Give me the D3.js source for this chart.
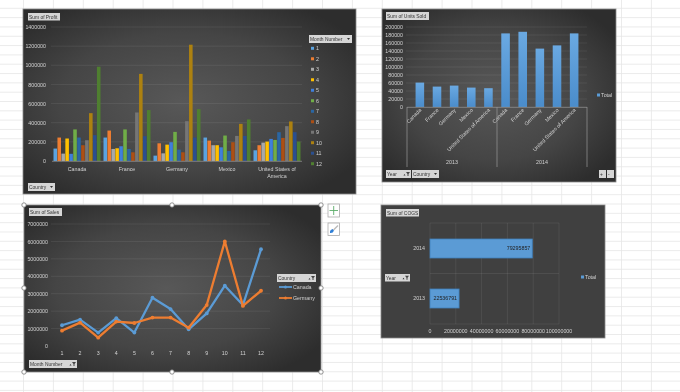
<!DOCTYPE html>
<html><head><meta charset="utf-8">
<script src="https://cdn.jsdelivr.net/npm/d3@7"></script>
<style>
html,body{margin:0;padding:0;background:#fff;overflow:hidden}
svg{display:block;filter:blur(.3px)}
text{font-family:"Liberation Sans",Arial,sans-serif}
</style></head><body>
<script>
// ---- data ----
const countries = ["Canada","France","Germany","Mexico","United States of America"];
const months = ["1","2","3","4","5","6","7","8","9","10","11","12"];
const profitCanada  = [130000,245000,77000,235000,75000,330000,245000,165000,217000,500000,270000,985000];
const profitFrance  = [245000,318000,126000,133000,154000,330000,126000,91000,507000,910000,259000,532000];
const profitGermany = [56000,185000,80000,171000,196000,304000,119000,91000,416000,1215000,245000,542000];
const profitMexico  = [245000,213000,165000,165000,143000,266000,105000,196000,262000,388000,262000,434000];
const profitUSA     = [112000,165000,192000,203000,231000,220000,301000,241000,364000,413000,301000,203000];
const monthColors = ["#5ba3e0","#ed7d31","#a8a8a8","#ffc000","#3f7fdc","#70ad47","#2a66a3","#ad4f14","#767676","#ad8110","#2b4f8f","#4f7f30"];
const profitTicks = [0,200000,400000,600000,800000,1000000,1200000,1400000];

const unitsShort = ["Canada","France","Germany","Mexico","United States of America"];
const years = ["2013","2014"];
const units2013 = [61000,51000,53500,48500,47000];
const units2014 = [184000,188000,146000,154000,184000];
const unitsTicks = [0,20000,40000,60000,80000,100000,120000,140000,160000,180000,200000];

const salesCanada  = [1190000,1510000,770000,1600000,770000,2770000,2120000,960000,1870000,3460000,2350000,5550000];
const salesGermany = [880000,1340000,480000,1400000,1320000,1630000,1630000,1050000,2350000,6000000,2300000,3170000];
const salesTicks = [0,1000000,2000000,3000000,4000000,5000000,6000000,7000000];

const cogsYears = ["2014","2013"];
const cogsValues = [79295857,22536791];
const cogsTicks = [0,20000000,40000000,60000000,80000000,100000000];

// ---- layout ----
const W=680,H=392;
const svg=d3.select("body").append("svg").attr("width",W).attr("height",H);
const defs=svg.append("defs");
const rg=defs.append("radialGradient").attr("id","panel").attr("cx","48%").attr("cy","50%").attr("r","62%");
rg.append("stop").attr("offset","0%").attr("stop-color","#585858");
rg.append("stop").attr("offset","60%").attr("stop-color","#454545");
rg.append("stop").attr("offset","100%").attr("stop-color","#2d2d2d");
const bg=defs.append("linearGradient").attr("id","bar").attr("x1",0).attr("x2",0).attr("y1",0).attr("y2",1);
bg.append("stop").attr("offset","0%").attr("stop-color","#6aa9e2");
bg.append("stop").attr("offset","100%").attr("stop-color","#4a8ccb");

const LBL="#d2d2d2", GRID="rgba(255,255,255,.11)", FS=5.3;

// worksheet grid
const sheet=svg.append("g").attr("stroke","#e6e6e6").attr("stroke-width",.8);
d3.range(0,24).forEach(i=>{const x=23.5-29.9+i*29.9;sheet.append("line").attr("x1",x).attr("x2",x).attr("y1",0).attr("y2",H);});
d3.range(0,42).forEach(i=>{const y=8.3+i*9.32;sheet.append("line").attr("x1",0).attr("x2",W).attr("y1",y).attr("y2",y);});

function panel(x0,y0,x1,y1,fill){
  svg.append("rect").attr("x",x0).attr("y",y0).attr("width",x1-x0).attr("height",y1-y0)
     .attr("fill",fill).attr("stroke","#8a8a8a").attr("stroke-width",.8);
}
function button(x0,y0,x1,y1,label,arrow){
  svg.append("rect").attr("x",x0).attr("y",y0).attr("width",x1-x0).attr("height",y1-y0).attr("fill","#d6d6d6");
  svg.append("text").attr("x",x0+1).attr("y",(y0+y1)/2+1.8).attr("font-size",4.9).attr("fill","#333").text(label);
  if(arrow==="down"){
    svg.append("path").attr("d",`M${x1-5},${(y0+y1)/2-1}h3l-1.5,2z`).attr("fill","#333");
  } else if(arrow==="filter"){
    const m=(y0+y1)/2;
    svg.append("path").attr("d",`M${x1-7.5},${m+1.5}h2l-1,-1.5z`).attr("fill","#333");
    svg.append("path").attr("d",`M${x1-5},${m-2}h4l-1.5,2v2h-1v-2z`).attr("fill","#444");
  }
}
function yAxis(scale,ticks,x,x2,lx){
  const g=svg.append("g").attr("transform",`translate(${lx},0)`)
    .call(d3.axisLeft(scale).tickValues(ticks).tickFormat(d3.format("d")).tickSize(0).tickPadding(3));
  g.select(".domain").remove();
  g.selectAll("text").attr("fill",LBL).attr("font-size",FS).attr("font-family","Liberation Sans");
  svg.append("g").selectAll("line").data(ticks.slice(1)).join("line")
    .attr("x1",x).attr("x2",x2).attr("y1",d=>scale(d)).attr("y2",d=>scale(d))
    .attr("stroke",GRID).attr("stroke-width",.7);
}
function legendText(x,y,t){
  svg.append("text").attr("x",x).attr("y",y+1.9).attr("font-size",FS).attr("fill",LBL).text(t);
}

// ---------- Chart 1: profit ----------
panel(23,9,356,194,"url(#panel)");
const y1=d3.scaleLinear().domain([0,1400000]).range([161,27]);
const x1=d3.scaleBand().domain(countries).range([52,302]).paddingInner(.06).paddingOuter(.03);
const x1m=d3.scaleBand().domain(months).range([0,x1.bandwidth()]).paddingInner(.1);
yAxis(y1,profitTicks,51,302,49);
const profit=[profitCanada,profitFrance,profitGermany,profitMexico,profitUSA];
countries.forEach((c,ci)=>{
  svg.append("g").selectAll("rect").data(profit[ci]).join("rect")
    .attr("x",(d,i)=>x1(c)+x1m(months[i])).attr("width",x1m.bandwidth())
    .attr("y",d=>y1(d)).attr("height",d=>y1(0)-y1(d))
    .attr("fill",(d,i)=>monthColors[i]);
});
svg.append("line").attr("x1",52).attr("x2",302).attr("y1",161.3).attr("y2",161.3).attr("stroke","#999").attr("stroke-width",.7);
countries.forEach(c=>{
  const cx=x1(c)+x1.bandwidth()/2;
  if(c.length>10){
    svg.append("text").attr("x",cx).attr("y",171).attr("text-anchor","middle").attr("font-size",FS).attr("fill",LBL).text("United States of");
    svg.append("text").attr("x",cx).attr("y",177.5).attr("text-anchor","middle").attr("font-size",FS).attr("fill",LBL).text("America");
  } else {
    svg.append("text").attr("x",cx).attr("y",171).attr("text-anchor","middle").attr("font-size",FS).attr("fill",LBL).text(c);
  }
});
button(28,13,60,20.5,"Sum of Profit");
button(28,183,55,191,"Country","down");
button(309,35,352,43,"Month Number","down");
const leg1=d3.scalePoint().domain(months).range([48.3,163.7]);
months.forEach((m,i)=>{
  svg.append("rect").attr("x",311).attr("y",leg1(m)-1.5).attr("width",3).attr("height",3).attr("fill",monthColors[i]);
  legendText(316,leg1(m),m);
});

// ---------- Chart 2: units ----------
panel(382,9,616,182,"url(#panel)");
const y2=d3.scaleLinear().domain([0,200000]).range([107,27]);
const keys2=[...years.flatMap(y=>unitsShort.map(c=>y+"|"+c))];
const x2=d3.scaleBand().domain(keys2).range([407,587]).padding(.5);
const vals2=[...units2013,...units2014];
yAxis(y2,unitsTicks,406,587,406);
svg.append("g").selectAll("rect").data(vals2).join("rect")
  .attr("x",(d,i)=>x2(keys2[i])).attr("width",x2.bandwidth())
  .attr("y",d=>y2(d)).attr("height",d=>y2(0)-y2(d)).attr("fill","url(#bar)");
keys2.forEach(k=>{
  const cx=x2(k)+x2.bandwidth()/2;
  svg.append("text").attr("transform",`translate(${cx+2},110.5) rotate(-45)`).attr("text-anchor","end")
    .attr("font-size",FS).attr("fill",LBL).text(k.split("|")[1]);
});
svg.append("line").attr("x1",407).attr("x2",587).attr("y1",107.3).attr("y2",107.3).attr("stroke","#999").attr("stroke-width",.7);
[407,497,587].forEach(x=>svg.append("line").attr("x1",x).attr("x2",x).attr("y1",107).attr("y2",167).attr("stroke","#999").attr("stroke-width",.7));
years.forEach((y,i)=>svg.append("text").attr("x",452+i*90).attr("y",164).attr("text-anchor","middle").attr("font-size",FS).attr("fill",LBL).text(y));
button(386,12,429,20,"Sum of Units Sold");
button(386,170,411,178,"Year","filter");
button(412,170,439,178,"Country","down");
button(599,170,606,178,"+");
button(607,170,614,178,"-");
svg.append("rect").attr("x",597).attr("y",93.5).attr("width",3).attr("height",3).attr("fill","#5b9bd5");
legendText(601,95,"Total");

// ---------- Chart 3: sales ----------
panel(24,205,321,372,"url(#panel)");
const y3=d3.scaleLinear().domain([0,7000000]).range([346,224]);
const x3=d3.scalePoint().domain(months).range([62,261]);
yAxis(y3,salesTicks,51,270,51);
svg.append("g").selectAll("text").data(months).join("text")
  .attr("x",d=>x3(d)).attr("y",355).attr("text-anchor","middle").attr("font-size",FS).attr("fill",LBL).text(d=>d);
const line3=d3.line().x((d,i)=>x3(months[i])).y(d=>y3(d));
[[salesCanada,"#5b9bd5"],[salesGermany,"#ed7d31"]].forEach(([v,col])=>{
  svg.append("path").attr("d",line3(v)).attr("fill","none").attr("stroke",col).attr("stroke-width",2.3).attr("stroke-linejoin","round");
  svg.append("g").selectAll("circle").data(v).join("circle")
    .attr("cx",(d,i)=>x3(months[i])).attr("cy",d=>y3(d)).attr("r",1.9).attr("fill",col);
});
button(29,208,62,216,"Sum of Sales");
button(29,360,77,368,"Month Number","filter");
button(277,274,316,282,"Country","filter");
[["Canada","#5b9bd5",287],["Germany","#ed7d31",298]].forEach(([t,c,y])=>{
  svg.append("line").attr("x1",279).attr("x2",292).attr("y1",y).attr("y2",y).attr("stroke",c).attr("stroke-width",1.8);
  svg.append("circle").attr("cx",285.5).attr("cy",y).attr("r",1.5).attr("fill",c);
  legendText(293,y,t);
});
// selection handles
[[24,205],[172,205],[321,205],[24,288],[321,288],[24,372],[172,372],[321,372]].forEach(([x,y])=>{
  svg.append("circle").attr("cx",x).attr("cy",y).attr("r",2.2).attr("fill","#fff").attr("stroke","#777").attr("stroke-width",.8);
});
// chart buttons
svg.append("rect").attr("x",328).attr("y",204).attr("width",11.5).attr("height",13).attr("fill","#fff").attr("stroke","#aaa").attr("stroke-width",.8);
svg.append("path").attr("d","M333.7,206v9M329.5,210.5h8.5").attr("stroke","#5cae6a").attr("stroke-width",.9);
svg.append("rect").attr("x",328).attr("y",223).attr("width",11.5).attr("height",12.5).attr("fill","#fff").attr("stroke","#aaa").attr("stroke-width",.8);
svg.append("path").attr("d","M330,233q-.5,-3 2.5,-4l1.5,1.5q-1,3 -4,2.5z").attr("fill","#2f7fd6");
svg.append("path").attr("d","M333,229.5l4.5,-4.5l1,1l-4.5,4.5z").attr("fill","#bbb");

// ---------- Chart 4: COGS ----------
panel(381,205,605,338,"#404040");
const x4=d3.scaleLinear().domain([0,100000000]).range([430,559]);
const y4=d3.scaleBand().domain(cogsYears).range([223,324]).paddingInner(.62).paddingOuter(.32);
svg.append("g").selectAll("line").data(cogsTicks).join("line")
  .attr("x1",d=>x4(d)).attr("x2",d=>x4(d)).attr("y1",223).attr("y2",324).attr("stroke",GRID).attr("stroke-width",.7);
[223,273.5,324].forEach(y=>svg.append("line").attr("x1",430).attr("x2",559).attr("y1",y).attr("y2",y).attr("stroke",GRID).attr("stroke-width",.7));
svg.append("g").selectAll("rect").data(cogsValues).join("rect")
  .attr("x",x4(0)).attr("y",(d,i)=>y4(cogsYears[i])).attr("width",d=>x4(d)-x4(0)).attr("height",y4.bandwidth())
  .attr("fill","#5b9bd5").attr("stroke","#3f7fbb").attr("stroke-width",.8);
svg.append("g").selectAll("text").data(cogsValues).join("text")
  .attr("x",d=>x4(d)-2).attr("y",(d,i)=>y4(cogsYears[i])+y4.bandwidth()/2+1.9)
  .attr("text-anchor","end").attr("font-size",FS).attr("fill","#222").text(d=>d);
cogsYears.forEach(y=>svg.append("text").attr("x",425).attr("y",y4(y)+y4.bandwidth()/2+1.9).attr("text-anchor","end").attr("font-size",FS).attr("fill",LBL).text(y));
cogsTicks.forEach(t=>svg.append("text").attr("x",x4(t)).attr("y",333).attr("text-anchor","middle").attr("font-size",FS).attr("fill",LBL).text(t));
button(386,209,419,216.5,"Sum of COGS");
button(385,274,410,281.5,"Year","filter");
svg.append("rect").attr("x",581).attr("y",275.5).attr("width",3).attr("height",3).attr("fill","#5b9bd5");
legendText(585,277,"Total");
</script>
</body></html>
